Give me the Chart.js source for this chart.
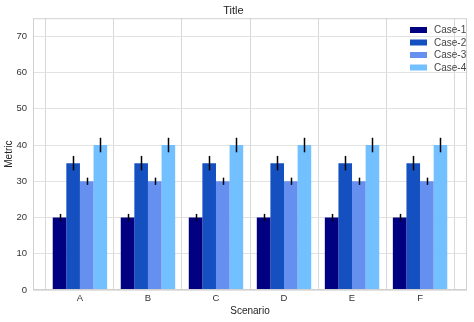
<!DOCTYPE html>
<html>
<head>
<meta charset="utf-8">
<script src="https://cdn.jsdelivr.net/npm/chart.js@4"></script>
<style>
  html, body { margin: 0; padding: 0; background: #fff; }
  #wrap { width: 474px; height: 322px; }
</style>
</head>
<body>
<div id="wrap"><canvas id="chart" width="474" height="322"></canvas></div>
<script>
// chart data
const scenarios = ["A", "B", "C", "D", "E", "F"];
const caseNames = ["Case-1", "Case-2", "Case-3", "Case-4"];
const case1 = [20, 20, 20, 20, 20, 20];
const case2 = [35, 35, 35, 35, 35, 35];
const case3 = [30, 30, 30, 30, 30, 30];
const case4 = [40, 40, 40, 40, 40, 40];
const err1 = [1, 1, 1, 1, 1, 1];
const err2 = [2, 2, 2, 2, 2, 2];
const err3 = [1, 1, 1, 1, 1, 1];
const err4 = [2, 2, 2, 2, 2, 2];
const yTicks = [0, 10, 20, 30, 40, 50, 60, 70];

const colors = ["#000080", "#1550c0", "#6590f0", "#72c0ff"];
const values = [case1, case2, case3, case4];
const errors = [err1, err2, err3, err4];

const FONT = "'Liberation Sans', Arial, sans-serif";

// error bars drawn on top of each bar
const errorBars = {
  id: "errorBars",
  afterDatasetsDraw(chart) {
    const ctx = chart.ctx;
    const y = chart.scales.y;
    ctx.save();
    ctx.strokeStyle = "#000";
    ctx.lineWidth = 1.5;
    chart.data.datasets.forEach((ds, i) => {
      const meta = chart.getDatasetMeta(i);
      meta.data.forEach((bar, j) => {
        const v = values[i][j], e = errors[i][j];
        ctx.beginPath();
        ctx.moveTo(Math.round(bar.x) + 0.5, y.getPixelForValue(v - e));
        ctx.lineTo(Math.round(bar.x) + 0.5, y.getPixelForValue(v + e));
        ctx.stroke();
      });
    });
    ctx.restore();
  }
};

// frame around plot + legend inside top right
const frameAndLegend = {
  id: "frameAndLegend",
  afterDraw(chart) {
    const ctx = chart.ctx;
    const a = chart.chartArea;
    ctx.save();
    ctx.strokeStyle = "#d0d0d0";
    ctx.lineWidth = 1;
    ctx.strokeRect(a.left + 0.5, a.top + 0.5, a.right - a.left - 1, a.bottom - a.top - 1);

    ctx.font = "10px " + FONT;
    ctx.textBaseline = "middle";
    const boxW = 17, boxH = 6;
    const x0 = 410, y0 = 30, step = 12.5;
    caseNames.forEach((name, i) => {
      const yy = y0 + i * step;
      ctx.fillStyle = colors[i];
      ctx.fillRect(x0, yy - boxH / 2, boxW, boxH);
      ctx.fillStyle = "#444";
      ctx.fillText(name, x0 + boxW + 7, yy + 0.5);
    });
    ctx.restore();
  }
};

const datasets = caseNames.map((name, i) => ({
  label: name,
  data: values[i].map((v, j) => ({ x: j, y: v })),
  backgroundColor: colors[i],
  borderWidth: 0,
  categoryPercentage: 0.8,
  barPercentage: 1.0
}));

new Chart(document.getElementById("chart"), {
  type: "bar",
  data: { datasets: datasets },
  plugins: [errorBars, frameAndLegend],
  options: {
    responsive: false,
    animation: false,
    layout: { padding: { left: 0, right: 7, top: 0, bottom: 0 } },
    plugins: {
      legend: { display: false },
      tooltip: { enabled: false },
      title: {
        display: true,
        text: "Title",
        color: "#222",
        font: { family: FONT, size: 11, weight: "normal" },
        padding: { top: 4, bottom: 1 }
      }
    },
    scales: {
      x: {
        type: "linear",
        offset: false,
        min: -0.69,
        max: 5.69,
        afterBuildTicks(scale) {
          scale.ticks = scenarios.map((s, i) => ({ value: i }));
        },
        afterFit(scale) { scale.height = 32; },
        ticks: {
          callback: (v) => scenarios[v],
          color: "#333",
          font: { family: FONT, size: 9.5 },
          padding: 3,
          maxRotation: 0
        },
        grid: { color: "#d8d8d8", drawTicks: false },
        border: { display: false },
        title: {
          display: true,
          text: "Scenario",
          color: "#222",
          font: { family: FONT, size: 10 },
          padding: { top: 0, bottom: 5 }
        }
      },
      y: {
        min: 0,
        max: 75,
        afterBuildTicks(scale) {
          scale.ticks = yTicks.map((v) => ({ value: v }));
        },
        afterFit(scale) { scale.width = 33; },
        ticks: {
          color: "#333",
          font: { family: FONT, size: 9.5 },
          padding: 6
        },
        grid: { color: "#e2e2e2", drawTicks: false },
        border: { display: false },
        title: {
          display: true,
          text: "Metric",
          color: "#222",
          font: { family: FONT, size: 10 },
          padding: { top: 3, bottom: 0 }
        }
      }
    }
  }
});
</script>
</body>
</html>
